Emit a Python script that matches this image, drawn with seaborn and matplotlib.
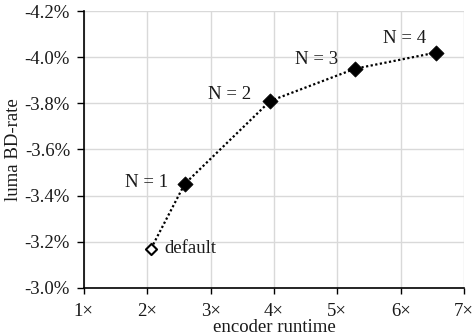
import matplotlib
matplotlib.use("Agg")
import matplotlib.pyplot as plt
import seaborn as sns
import pandas as pd

labels = ["default", "N = 1", "N = 2", "N = 3", "N = 4"]
runtime = [2.06, 2.59, 3.94, 5.28, 6.56]
bd_rate = [-3.17, -3.45, -3.81, -3.95, -4.02]
x_ticks = [1, 2, 3, 4, 5, 6, 7]
x_tick_labels = ["1×", "2×", "3×", "4×", "5×", "6×", "7×"]
y_ticks = [-3.0, -3.2, -3.4, -3.6, -3.8, -4.0, -4.2]
y_tick_labels = ["-3.0%", "-3.2%", "-3.4%", "-3.6%", "-3.8%", "-4.0%", "-4.2%"]

df = pd.DataFrame({"label": labels, "runtime": runtime, "bd": bd_rate})

sns.set_theme(style="white")
plt.rcParams["font.family"] = ["Liberation Serif", "DejaVu Serif"]

fig = plt.figure(figsize=(4.74, 3.35), dpi=100)
ax = fig.add_axes([0.177, 0.141, 0.802, 0.826])

sns.lineplot(data=df, x="runtime", y="bd", sort=False, color="black",
             linestyle=(0, (1, 1.1)), linewidth=1.6, ax=ax, zorder=2)
sns.scatterplot(data=df.iloc[1:], x="runtime", y="bd", marker="D", s=60,
                color="black", edgecolor="black", linewidth=0.5, ax=ax, zorder=3)
sns.scatterplot(data=df.iloc[:1], x="runtime", y="bd", marker="D", s=32,
                facecolor="white", edgecolor="black", linewidth=1.5, ax=ax, zorder=3)

offsets = {"default": (13, 0, "left"), "N = 1": (-17, 1, "right"),
           "N = 2": (-19, 6, "right"), "N = 3": (-17, 9, "right"),
           "N = 4": (-10, 14, "right")}
for lab, xv, yv in zip(labels, runtime, bd_rate):
    dx, dy, ha = offsets[lab]
    ax.annotate(lab, (xv, yv), xytext=(dx, dy), textcoords="offset pixels",
                ha=ha, va="center", fontsize=13.5, color="#1a1a1a")

ax.set_xlim(1, 7)
ax.set_ylim(-3.0, -4.2)
ax.set_xticks(x_ticks)
ax.set_xticklabels(x_tick_labels)
ax.set_yticks(y_ticks)
ax.set_yticklabels(y_tick_labels)
ax.grid(True, color="#d9d9d9", linewidth=1.0)
ax.set_axisbelow(True)
for s in ["top", "right"]:
    ax.spines[s].set_visible(False)
for s in ["left", "bottom"]:
    ax.spines[s].set_color("black")
    ax.spines[s].set_linewidth(1.2)
ax.tick_params(axis="both", which="major", direction="out", length=4, width=1.0,
               color="black", labelsize=13.5, labelcolor="#1a1a1a")
ax.tick_params(axis="y", pad=5, length=5)
ax.tick_params(axis="x", pad=7)
ax.xaxis.set_ticks_position("bottom")
ax.yaxis.set_ticks_position("left")
ax.set_xlabel("encoder runtime", fontsize=13.5, color="#1a1a1a", labelpad=-1)
ax.set_ylabel("luma BD-rate", fontsize=13.5, color="#1a1a1a", labelpad=2)

fig.savefig("out.png", dpi=100)
